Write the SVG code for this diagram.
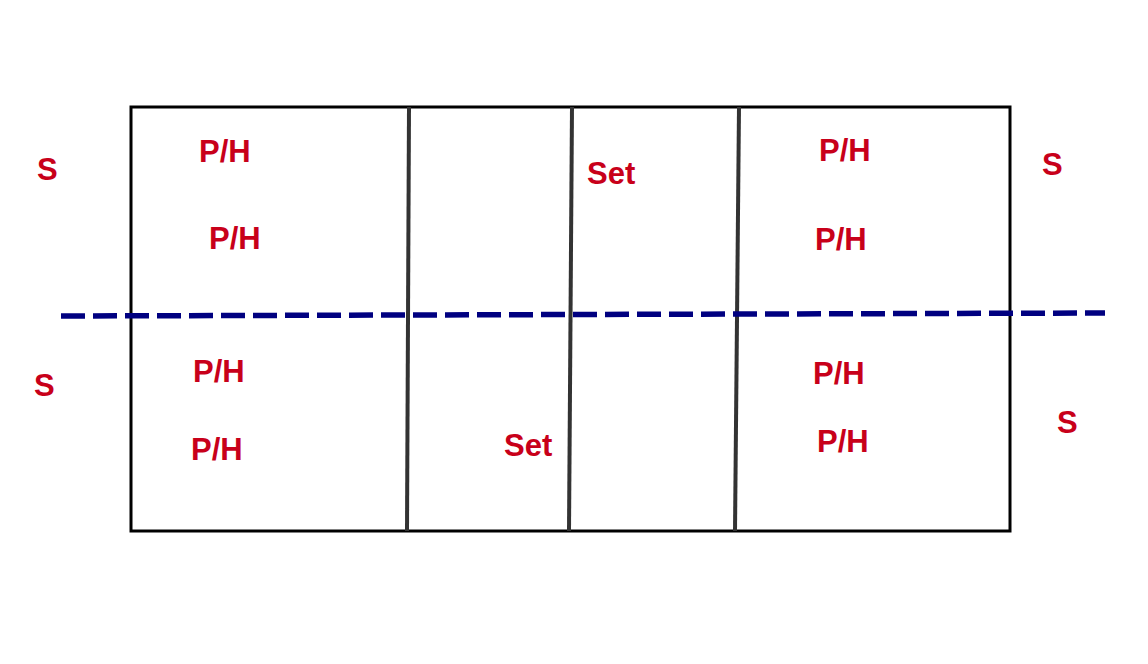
<svg xmlns="http://www.w3.org/2000/svg" width="1148" height="664" viewBox="0 0 1148 664">
<style>
.lbl{font-family:"Liberation Sans",Arial,sans-serif;font-weight:bold;font-size:31px;fill:#c8001a}
.court{fill:none;stroke:#000;stroke-width:3}
.div{stroke:#333;stroke-width:4}
.net{stroke:#000080;stroke-width:5.5;stroke-dasharray:24 8;fill:none}
</style>
<rect width="1148" height="664" fill="#fff"/>
<g id="court">
<rect class="court" x="131" y="107" width="879" height="424"/>
</g>
<g id="connectors">
<line class="div" x1="409" y1="107" x2="407" y2="531"/>
<line class="div" x1="572" y1="107" x2="569" y2="531"/>
<line class="div" x1="739" y1="107" x2="735" y2="531"/>
<line class="net" x1="61" y1="316" x2="1105" y2="313"/>
</g>
<g id="labels">
<text class="lbl" x="37" y="180">S</text>
<text class="lbl" x="34" y="396">S</text>
<text class="lbl" x="199" y="162">P/H</text>
<text class="lbl" x="209" y="249">P/H</text>
<text class="lbl" x="193" y="382">P/H</text>
<text class="lbl" x="191" y="460">P/H</text>
<text class="lbl" x="587" y="184">Set</text>
<text class="lbl" x="504" y="456">Set</text>
<text class="lbl" x="819" y="161">P/H</text>
<text class="lbl" x="815" y="250">P/H</text>
<text class="lbl" x="813" y="384">P/H</text>
<text class="lbl" x="817" y="452">P/H</text>
<text class="lbl" x="1042" y="175">S</text>
<text class="lbl" x="1057" y="433">S</text>
</g>
</svg>
